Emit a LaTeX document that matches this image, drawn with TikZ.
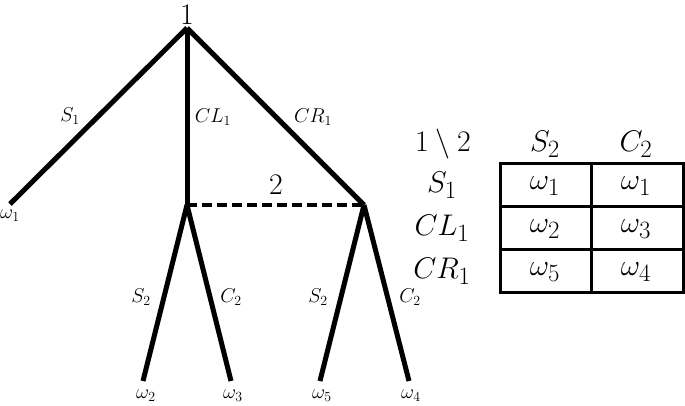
\documentclass[tikz,border=0pt]{standalone}
\begin{document}
\begin{tikzpicture}[x=1pt,y=-1pt,
  edge/.style={line width=5pt},
  info/.style={line width=3.5pt,dash pattern=on 10pt off 5pt},
  big/.style={font=\fontsize{24.88}{30}\selectfont,inner sep=0pt,scale=1.2},
  small/.style={font=\fontsize{17.28}{21}\selectfont,inner sep=0pt,scale=1.16},
  grid/.style={line width=3pt}]
\useasboundingbox (0,0) rectangle (685,405);
% tree vertices
\coordinate (root) at (187,28);
\coordinate (t1) at (10,204);
\coordinate (L) at (187,205);
\coordinate (R) at (364,205);
\coordinate (a) at (143,381);
\coordinate (b) at (231,381);
\coordinate (c) at (320,381);
\coordinate (d) at (409,381);
\draw[edge] (root) -- (t1);
\draw[edge] (root) -- (L);
\draw[edge] (root) -- (R);
\draw[info] (L) -- (R);
\draw[edge] (L) -- (a);
\draw[edge] (L) -- (b);
\draw[edge] (R) -- (c);
\draw[edge] (R) -- (d);
% labels
\node[big] (p1) at (187,14.5) {$1$};
\node[big] (p2) at (276,185) {$2$};
\node[small] (lS1) at (70,116) {$S_1$};
\node[small] (lCL1) at (213,117) {$CL_1$};
\node[small] (lCR1) at (313,117) {$CR_1$};
\node[small] (lS2a) at (141,297) {$S_2$};
\node[small] (lC2a) at (231,297) {$C_2$};
\node[small] (lS2b) at (318,297) {$S_2$};
\node[small] (lC2b) at (410,297) {$C_2$};
\node[small] (w1) at (10,216) {$\omega_1$};
\node[small] (w2) at (146,396) {$\omega_2$};
\node[small] (w3) at (233,396) {$\omega_3$};
\node[small] (w5) at (322,396) {$\omega_5$};
\node[small] (w4) at (411,396) {$\omega_4$};
% table
\draw[grid] (500,163) rectangle (683,292);
\draw[grid] (591,163) -- (591,292);
\draw[grid] (500,206) -- (683,206);
\draw[grid] (500,249) -- (683,249);
\node[big] (h0) at (443,144) {$1\setminus 2$};
\node[big] (h1) at (545,144) {$S_2$};
\node[big] (h2) at (636,144) {$C_2$};
\node[big] (r1) at (442,185) {$S_1$};
\node[big] (r2) at (442,228) {$CL_1$};
\node[big] (r3) at (442,271) {$CR_1$};
\node[big] (c11) at (545,186) {$\omega_1$};
\node[big] (c12) at (636,186) {$\omega_1$};
\node[big] (c21) at (545,229) {$\omega_2$};
\node[big] (c22) at (636,229) {$\omega_3$};
\node[big] (c31) at (545,272) {$\omega_5$};
\node[big] (c32) at (636,272) {$\omega_4$};
\end{tikzpicture}
\end{document}
